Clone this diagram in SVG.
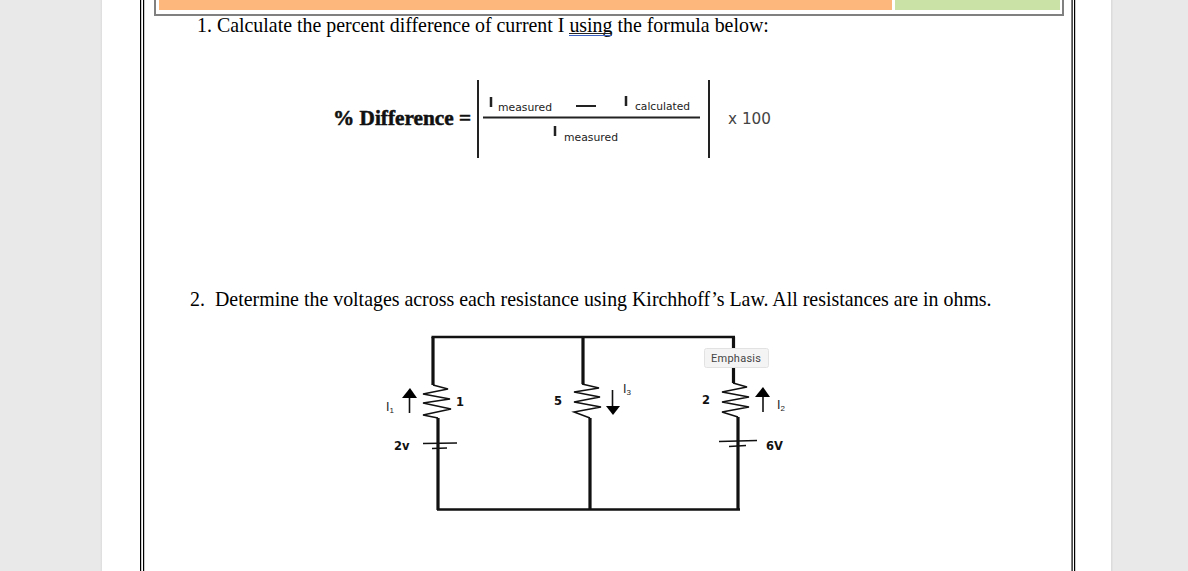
<svg xmlns="http://www.w3.org/2000/svg" width="1188" height="571" viewBox="0 0 1188 571">
<defs><linearGradient id="sl" x1="0" x2="1" y1="0" y2="0"><stop offset="0" stop-color="#e9e9e9"/><stop offset="1" stop-color="#dcdcdc"/></linearGradient></defs>
<style>
.t{font-family:"Liberation Serif",serif;font-size:19.9px;fill:#000}
.s{font-family:"DejaVu Sans",sans-serif;font-size:10.5px;fill:#222}
.b{font-family:"DejaVu Sans",sans-serif;font-size:11.5px;font-weight:bold;fill:#111}
.i{font-family:"Liberation Sans",sans-serif;font-size:12.500px;fill:#222}
.w{fill:none;stroke:#111;stroke-width:3.200}
.r{fill:none;stroke:#111;stroke-width:1.500}
.l{stroke:#111;stroke-width:1.600;fill:none}
.a{fill:#000}
.f{stroke:#222;stroke-width:2;fill:none}
</style>
<rect width="1188" height="571" fill="#e9e9e9"/>
<rect x="100" width="2" height="571" fill="url(#sl)"/>
<rect x="102" width="1009" height="571" fill="#fff"/>
<rect x="1111" width="1.500" height="571" fill="#dcdcdc"/>
<g id="page-frame" fill="#000">
<rect x="140" width="1.2" height="571"/><rect x="143" width="1.2" height="571"/>
<rect x="1071.500" width="1.2" height="571"/><rect x="1074" width="1.2" height="571"/>
</g>
<g id="table-strip">
<path d="M155 0V15H1063V0" fill="none" stroke="#808080" stroke-width="2"/>
<rect x="159" width="733" height="10" fill="#fdb77c"/>
<rect x="895" width="165" height="10" fill="#cbe2a6"/>
</g>
<text class="t" x="197" y="32">1. Calculate the percent difference of current I using the formula below:</text>
<path d="M569 33.500H612" stroke="#222" stroke-width="1" fill="none"/>
<path d="M569 35.500H612" stroke="#3a62c4" stroke-width="1" fill="none"/>
<g id="formula">
<text x="333" y="125" font-family="Liberation Serif,serif" font-size="20" font-weight="bold" fill="#111" stroke="#111" stroke-width=".5" textLength="138" lengthAdjust="spacingAndGlyphs">% Difference =</text>
<path class="f" d="M478 80V158M709 80V158M483 117.500H700M576 106H596"/>
<path class="f" style="stroke-width:2.500" d="M491 97V107M626 96V106M555 126V136"/>
<text class="s" x="498" y="111" textLength="54" lengthAdjust="spacingAndGlyphs">measured</text>
<text class="s" x="635" y="110" textLength="55" lengthAdjust="spacingAndGlyphs">calculated</text>
<text class="s" x="564" y="141" textLength="54" lengthAdjust="spacingAndGlyphs">measured</text>
<text x="728" y="124" font-family="DejaVu Sans,sans-serif" font-size="15" fill="#444" textLength="43" lengthAdjust="spacingAndGlyphs">x 100</text>
</g>
<text class="t" x="190" y="306">2.</text>
<text class="t" x="215" y="306">Determine the voltages across each resistance using Kirchhoff’s Law. All resistances are in ohms.</text>
<g id="connectors">
<path class="w" d="M433 385V337M583 337V384M733.500 383V337M438 418V510M590 418V510M738 417V510"/>
<path fill="none" stroke="#111" stroke-width="2.500" d="M431.500 337H735M437 509.500H740"/>
</g>
<g id="R1"><path class="r" d="M433 385L448 389L423 394L450 399L423 403L451 409L423 415L438 418"/><text class="b" x="456" y="406">1</text></g>
<g id="R5"><path class="r" d="M582 384L599 388L574 392L600 397L574 402L601 407L574 412L590 418"/><text class="b" x="554" y="405">5</text></g>
<g id="R2"><path class="r" d="M733 383L747 387L722 392L749 397L722 402L749 407L722 412L738 417"/><text class="b" x="702" y="404">2</text></g>
<g id="B1"><path class="l" d="M423 443.500L457 443M432 448.500L447 448"/><text class="b" x="394" y="450">2v</text></g>
<g id="B2"><path class="l" d="M719 441.500L757 440.500M729 446.500L746 445.500"/><text class="b" x="766" y="449.500">6V</text></g>
<g id="I1"><path class="l" d="M409.500 413V395"/><path class="a" d="M402 398L410 388L417 398Z"/><text class="i" x="386" y="411">I<tspan font-size="8" dy="2">1</tspan></text></g>
<g id="I3"><path class="l" d="M612.500 390V408"/><path class="a" d="M606 406H620L613 415Z"/><text class="i" x="623" y="393">I<tspan font-size="8" dy="2">3</tspan></text></g>
<g id="I2"><path class="l" d="M763 412V393"/><path class="a" d="M755 397L763 387L770 397Z"/><text class="i" x="777" y="409">I<tspan font-size="8" dy="2">2</tspan></text></g>
<g id="tooltip">
<rect x="704.500" y="348.500" width="64" height="19" rx="2" fill="#f4f4f4" stroke="#e2e2e2"/>
<text x="711" y="362" font-family="Roboto,sans-serif" font-size="11" fill="#444" textLength="50">Emphasis</text>
</g>
</svg>
